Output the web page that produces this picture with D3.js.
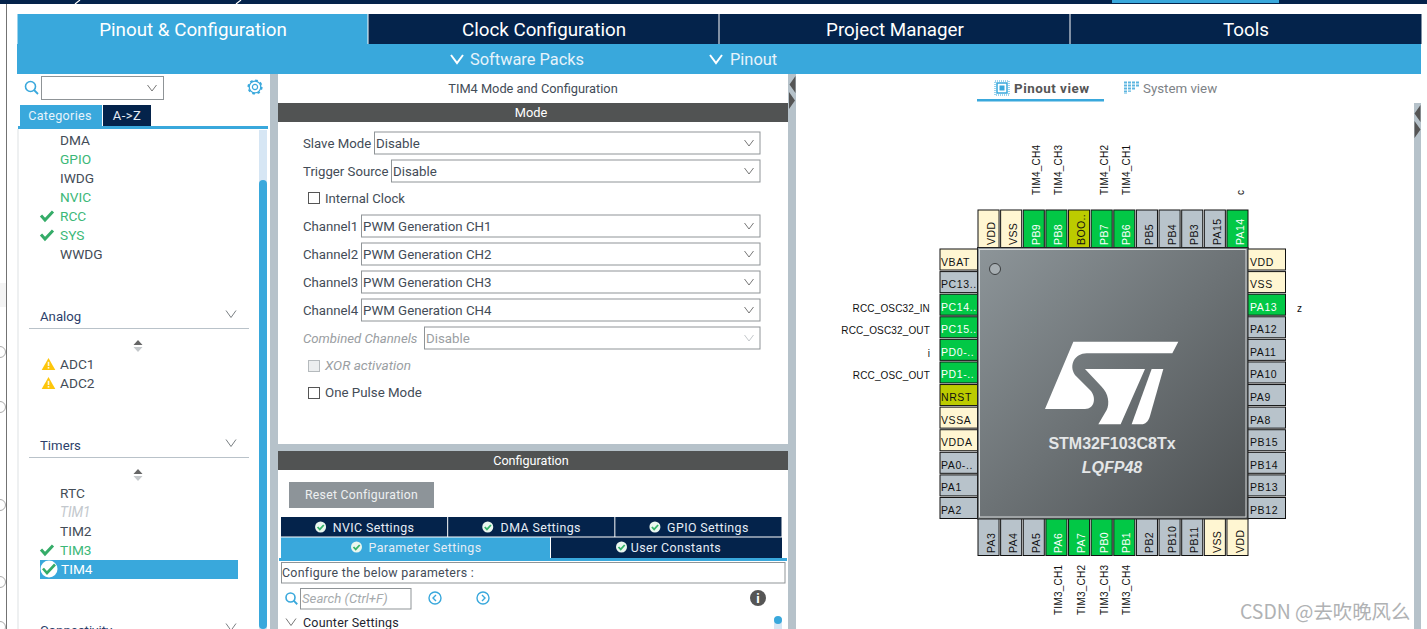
<!DOCTYPE html>
<html>
<head>
<meta charset="utf-8">
<script src="https://cdn.jsdelivr.net/npm/d3@7"></script>
<style>
  html, body { margin: 0; padding: 0; background: #fff; overflow: hidden; }
  svg { display: block; }
  text { font-family: Roboto, "Liberation Sans", sans-serif; }
</style>
</head>
<body>
<div id="chart"></div>
<script>
// header
var mainTabs = ["Pinout & Configuration", "Clock Configuration", "Project Manager", "Tools"];
var subMenus = ["Software Packs", "Pinout"];

// left list
var systemItems = ["DMA", "GPIO", "IWDG", "NVIC", "RCC", "SYS", "WWDG"];
var systemStates = ["plain", "green", "plain", "green", "ok", "ok", "plain"];
var analogItems = ["ADC1", "ADC2"];
var timerItems = ["RTC", "TIM1", "TIM2", "TIM3", "TIM4"];
var timerStates = ["plain", "off", "plain", "ok", "selected"];

// mode form
var modeLabels = ["Slave Mode", "Trigger Source", "Channel1", "Channel2", "Channel3", "Channel4", "Combined Channels"];
var modeValues = ["Disable", "Disable", "PWM Generation CH1", "PWM Generation CH2", "PWM Generation CH3", "PWM Generation CH4", "Disable"];
var configTabs1 = ["NVIC Settings", "DMA Settings", "GPIO Settings"];
var configTabs2 = ["Parameter Settings", "User Constants"];

// chip pins, p = power, g = free gpio, a = assigned, o = boot/reset
var topPins = ["VDD", "VSS", "PB9", "PB8", "BOO..", "PB7", "PB6", "PB5", "PB4", "PB3", "PA15", "PA14"];
var topKinds = ["p", "p", "a", "a", "o", "a", "a", "g", "g", "g", "g", "a"];
var topSignals = ["", "", "TIM4_CH4", "TIM4_CH3", "", "TIM4_CH2", "TIM4_CH1", "", "", "", "", "c"];
var leftPins = ["VBAT", "PC13..", "PC14..", "PC15..", "PD0-..", "PD1-..", "NRST", "VSSA", "VDDA", "PA0-..", "PA1", "PA2"];
var leftKinds = ["p", "g", "a", "a", "a", "a", "o", "p", "p", "g", "g", "g"];
var leftSignals = ["", "", "RCC_OSC32_IN", "RCC_OSC32_OUT", "i", "RCC_OSC_OUT", "", "", "", "", "", ""];
var rightPins = ["VDD", "VSS", "PA13", "PA12", "PA11", "PA10", "PA9", "PA8", "PB15", "PB14", "PB13", "PB12"];
var rightKinds = ["p", "p", "a", "g", "g", "g", "g", "g", "g", "g", "g", "g"];
var rightSignals = ["", "", "z", "", "", "", "", "", "", "", "", ""];
var bottomPins = ["PA3", "PA4", "PA5", "PA6", "PA7", "PB0", "PB1", "PB2", "PB10", "PB11", "VSS", "VDD"];
var bottomKinds = ["g", "g", "g", "a", "a", "a", "a", "g", "g", "g", "p", "p"];
var bottomSignals = ["", "", "", "TIM3_CH1", "TIM3_CH2", "TIM3_CH3", "TIM3_CH4", "", "", "", "", ""];

var navy = "#04234b", blue = "#39a8dc", slate = "#b6c2ca", bar = "#515353", ink = "#434c57", green = "#3cb878";
var kindFill = { p: "#fff6d2", g: "#b8c3cb", a: "#02c846", o: "#bccb00" };

var svg = d3.select("#chart").append("svg").attr("width", 1427).attr("height", 629);

function box(x0, y0, x1, y1, fill, stroke) {
  return svg.append("rect").attr("x", x0).attr("y", y0).attr("width", x1 - x0).attr("height", y1 - y0)
    .attr("fill", fill).attr("stroke", stroke || "none");
}
function label(x, y, str, size, color, anchor, extra) {
  var t = svg.append("text").attr("x", x).attr("y", y - 0.3).attr("font-size", size).attr("fill", color)
    .attr("text-anchor", anchor || "start").attr("dominant-baseline", "central").text(str);
  if (extra) extra(t);
  return t;
}
function chevron(x, y, w, h, color, width) {
  svg.append("path").attr("d", "M" + (x - w) + "," + (y - h) + "L" + x + "," + (y + h) + "L" + (x + w) + "," + (y - h))
    .attr("fill", "none").attr("stroke", color).attr("stroke-width", width || 1);
}
function tick(x, y, color, width) {
  svg.append("path").attr("d", "M" + (x - 6) + "," + (y - 0.5) + "l4,4.5l8,-8.5")
    .attr("fill", "none").attr("stroke", color).attr("stroke-width", width || 3);
}
function warn(x, y) {
  svg.append("path").attr("d", "M" + x + "," + (y - 6) + "l6.8,12h-13.6z").attr("fill", "#fdc60b");
  box(x - 0.8, y - 2.2, x + 0.8, y + 2, "#fff8dc");
  box(x - 0.8, y + 3, x + 0.8, y + 4.6, "#fff8dc");
}
function sortArrows(x, y) {
  svg.append("path").attr("d", "M" + (x - 4.5) + "," + (y - 1) + "l4.5,-5l4.5,5z").attr("fill", "#666");
  svg.append("path").attr("d", "M" + (x - 4.5) + "," + (y + 1) + "l4.5,5l4.5,-5z").attr("fill", "#c4c8cb");
}
function glass(x, y, r) {
  svg.append("circle").attr("cx", x).attr("cy", y).attr("r", r).attr("fill", "none").attr("stroke", blue).attr("stroke-width", 1.6);
  svg.append("path").attr("d", "M" + (x + r * 0.7) + "," + (y + r * 0.7) + "l" + r * 0.8 + "," + r * 0.8)
    .attr("stroke", blue).attr("stroke-width", 1.8);
}
function okDot(x, y) {
  svg.append("circle").attr("cx", x).attr("cy", y).attr("r", 5.5).attr("fill", "#eaf7ef");
  svg.append("path").attr("d", "M" + (x - 3) + "," + y + "l2.2,2.4l4,-4.4")
    .attr("fill", "none").attr("stroke", "#36b56a").attr("stroke-width", 1.8);
}
function spaced(v) { return function (t) { t.attr("letter-spacing", v); }; }
function italic(t) { t.attr("font-style", "italic"); }

// outer frame and stray edge of the window behind
box(0, 0, 1427, 629, "#fff");
box(0, 0, 1427, 4, navy);
box(1112, 0, 1279, 3, blue);
svg.append("path").attr("d", "M80,0l-5,4M241,0l-5,4").attr("stroke", "#fff").attr("stroke-width", 1.2);
box(6, 4, 7, 629, "#737373");
box(0, 283, 6, 307, "#f4f4f4");
[352, 407, 505, 582, 627].forEach(function (cy) {
  svg.append("circle").attr("cx", 0).attr("cy", cy).attr("r", 5.5).attr("fill", "none").attr("stroke", "#aaa");
});

// main tabs
var tabX = d3.scaleBand().domain(mainTabs).range([17.5, 1421.5]);
mainTabs.forEach(function (name, i) {
  box(tabX(name), 14, tabX(name) + tabX.bandwidth() - (i < 3 ? 1 : 0), 44, i === 0 ? blue : navy);
  label(tabX(name) + tabX.bandwidth() / 2, 30, name, 18.8, "#fff", "middle");
});
box(17, 44, 1421, 74, blue);
chevron(457, 59, 6, 4, "#fff", 2);
label(470, 60, subMenus[0], 16.4, "#e6f3fb");
chevron(716, 59, 6, 4, "#fff", 2);
label(730, 60, subMenus[1], 16.4, "#e6f3fb");

// panel backgrounds
box(270, 74, 278, 629, slate);
box(788, 74, 796, 629, slate);
box(278, 444, 788, 451, slate);
box(17, 129, 19, 629, "#eef0f1");
box(1414, 103, 1421, 629, slate);
svg.append("path").attr("d", "M795.5,76l-6,8.5l6,8.5zM789,92l6,8.5l-6,8.5z").attr("fill", "#555");
svg.append("path").attr("d", "M1420.5,105l-6,8.5l6,8.5zM1414.5,121l6,8.5l-6,8.5z").attr("fill", "#555");

// left panel
glass(30.5, 86.5, 5);
box(41.5, 76.5, 163.5, 99.5, "#fff", "#8f9497");
chevron(152, 88, 4.5, 3, "#777");
var gear = svg.append("g").attr("transform", "translate(255,87)").attr("fill", "none").attr("stroke", blue);
gear.append("circle").attr("r", 5.8).attr("stroke-width", 1.3);
gear.append("circle").attr("r", 6.8).attr("stroke-width", 1.6).attr("stroke-dasharray", "2.7 2.64");
gear.append("circle").attr("r", 2.6).attr("stroke-width", 1.2);

box(20, 105, 102, 126, blue);
label(60, 116, "Categories", 12.6, "#e6f3fb", "middle", spaced(0.3));
box(103, 105, 151, 126, navy);
label(127, 116, "A->Z", 13, "#e6edf5", "middle", spaced(0.5));
box(18, 126, 268, 129, blue);
box(259, 130, 267, 629, "#d6e6f4");
svg.append("rect").attr("x", 259).attr("y", 180).attr("width", 8).attr("height", 449).attr("rx", 4).attr("fill", blue);

var sysY = d3.scalePoint().domain(systemItems).range([140, 254]);
systemItems.forEach(function (name, i) {
  var st = systemStates[i];
  label(60, sysY(name), name, 13.7, st === "plain" ? ink : green);
  if (st === "ok") tick(47, sysY(name), "#35ac68");
});

label(40, 316.5, "Analog", 13.2, "#2d3f6b");
chevron(231, 314, 5, 3.5, "#7a7f83");
box(29, 328, 249, 329, "#b9c2c9");
sortArrows(138, 346);
var anaY = d3.scalePoint().domain(analogItems).range([364, 383]);
analogItems.forEach(function (name) {
  label(60, anaY(name), name, 13.7, ink);
  warn(48.5, anaY(name));
});

label(40, 445.5, "Timers", 13.2, "#2d3f6b");
chevron(231, 443, 5, 3.5, "#7a7f83");
box(29, 457, 249, 458, "#b9c2c9");
sortArrows(138, 475);
var timY = d3.scalePoint().domain(timerItems).range([493, 569]);
box(40, 560, 238, 579, blue);
timerItems.forEach(function (name, i) {
  var st = timerStates[i], c = st === "off" ? "#c3c8cd" : st === "ok" ? green : st === "selected" ? "#fff" : ink;
  label(st === "selected" ? 61 : 60, timY(name), name, 13.7, c, "start", function (t) {
    if (st === "off") italic(t);
  });
  if (st === "ok") tick(47, timY(name), "#35ac68");
  if (st === "selected") {
    svg.append("circle").attr("cx", 49).attr("cy", timY(name)).attr("r", 8.5).attr("fill", "#fff");
    tick(49, timY(name), "#35ac68", 2.6);
  }
});
label(40, 631, "Connectivity", 13.2, "#2d3f6b");
chevron(231, 627, 5, 3.5, "#7a7f83");

// mode panel
label(533, 88.5, "TIM4 Mode and Configuration", 12.8, ink, "middle");
box(278, 103, 788, 122, bar);
label(531, 113, "Mode", 12.8, "#fff", "middle");

var rowY = d3.scaleOrdinal().domain(modeLabels).range([143, 171, 226, 254, 282, 310, 338]);
var selectX = d3.scaleOrdinal().domain(modeLabels).range([374, 391, 361, 361, 361, 361, 424]);
modeLabels.forEach(function (name, i) {
  var y = rowY(name), x = selectX(name), dim = i === 6;
  label(303, y + 0.8, name, 13.2, dim ? "#9a9ea2" : ink, "start", function (t) { if (dim) italic(t); });
  box(x + 0.5, y - 11, 760, y + 11, "#fff", "#8f9497");
  label(x + 2, y + 0.8, modeValues[i], 13.3, dim ? "#9a9ea2" : ink);
  chevron(749, y, 4.5, 3, dim ? "#c4c8cb" : "#777");
});
box(308.5, 192.5, 319.5, 203.5, "#fff", "#555");
label(325, 198.8, "Internal Clock", 13.1, ink);
box(308.5, 360.5, 319.5, 371.5, "#eceeef", "#b5babd");
label(325, 365.5, "XOR activation", 13.6, "#9a9ea2", "start", italic);
box(308.5, 387.5, 319.5, 398.5, "#fff", "#555");
label(325, 392.8, "One Pulse Mode", 13.3, ink);

// configuration panel
box(278, 451, 788, 470, bar);
label(531, 461, "Configuration", 12.6, "#fff", "middle");
box(289, 482, 434, 508, "#8d9499");
label(361.5, 495.3, "Reset Configuration", 12.2, "#eef0f1", "middle", spaced(0.3));

var row1 = d3.scaleBand().domain(configTabs1).range([281, 782.5]);
configTabs1.forEach(function (name) {
  box(row1(name), 517, row1(name) + row1.bandwidth() - 1, 536.5, navy);
  var cx = row1(name) + row1.bandwidth() / 2;
  label(cx + 9, 527.5, name, 12.4, "#e6edf5", "middle", spaced(0.4));
  okDot(cx - 44, 527);
});
var row2x = d3.scaleOrdinal().domain(configTabs2).range([281, 551]);
var row2w = d3.scaleOrdinal().domain(configTabs2).range([269, 231]);
configTabs2.forEach(function (name, i) {
  box(row2x(name), 537.5, row2x(name) + row2w(name), 558, i === 0 ? blue : navy);
  var cx = row2x(name) + row2w(name) / 2;
  label(cx + 9.5, 548, name, 12.4, "#e6edf5", "middle", spaced(0.4));
  okDot(cx - (i === 0 ? 59 : 45), 547);
});
box(279, 558, 787, 561, blue);
box(281.5, 562.5, 785, 583, "#fff", "#8f9497");
label(282, 573, "Configure the below parameters :", 12.4, ink, "start", spaced(0.3));

glass(290.5, 597.5, 4.5);
box(300.5, 588.5, 411, 609, "#fff", "#8f9497");
label(302, 599, "Search (Ctrl+F)", 13.2, "#a6aaad", "start", italic);
[435, 483].forEach(function (cx, i) {
  svg.append("circle").attr("cx", cx).attr("cy", 598).attr("r", 6).attr("fill", "none").attr("stroke", blue).attr("stroke-width", 1.4);
  var s = i === 0 ? 1 : -1;
  svg.append("path").attr("d", "M" + (cx + s) + ",595l" + (-3 * s) + ",3l" + (3 * s) + ",3")
    .attr("fill", "none").attr("stroke", blue).attr("stroke-width", 1.4);
});
svg.append("circle").attr("cx", 758).attr("cy", 598).attr("r", 8).attr("fill", "#555");
label(758, 598.5, "i", 13, "#fff", "middle", function (t) { t.attr("font-weight", 700); });
chevron(291, 622, 5, 3.5, "#777");
label(303, 622.5, "Counter Settings", 12.5, "#1c2430", "start", spaced(0.2));
box(774, 618, 782, 629, "#d6e6f4");
svg.append("circle").attr("cx", 778).attr("cy", 620).attr("r", 4).attr("fill", blue);

// pinout view header
var chipIcon = svg.append("g").attr("transform", "translate(1002,88)");
chipIcon.append("rect").attr("x", -5).attr("y", -5).attr("width", 10).attr("height", 10).attr("fill", "none").attr("stroke", blue).attr("stroke-width", 1.5);
chipIcon.append("rect").attr("x", -7).attr("y", -7).attr("width", 14).attr("height", 14).attr("fill", "none").attr("stroke", blue).attr("stroke-width", 1).attr("stroke-dasharray", "1 1");
chipIcon.append("rect").attr("x", -2.5).attr("y", -2.5).attr("width", 5).attr("height", 5).attr("fill", blue);
label(1014, 88.8, "Pinout view", 13.4, "#555", "start", function (t) { t.attr("font-weight", 700).attr("letter-spacing", 0.5); });
box(977, 99, 1104, 101.5, blue);
[0, 4, 8, 12].forEach(function (dx) {
  svg.append("path").attr("d", "M" + (1125.5 + dx) + ",81.5V" + (94 - dx * 0.55)).attr("stroke", "#5db5e0").attr("stroke-width", 3).attr("stroke-dasharray", "2 1");
});
label(1143, 88.8, "System view", 13.3, "#7d8286");

// chip body
var defs = svg.append("defs");
var grad = defs.append("linearGradient").attr("id", "chipFill").attr("x1", 0).attr("y1", 0).attr("x2", 1).attr("y2", 1);
grad.append("stop").attr("offset", 0).attr("stop-color", "#8d9599");
grad.append("stop").attr("offset", 1).attr("stop-color", "#4c5052");

var pinLen = 38;
var chipX0 = 977.5, chipX1 = 1248, chipY0 = 247.5, chipY1 = 519;
var xTop = d3.scaleBand().domain(d3.range(12)).range([chipX0, chipX1 - 0.5]).paddingInner(0.07);
var xBot = d3.scaleBand().domain(d3.range(12)).range([chipX0, chipX1 - 0.5]).paddingInner(0.07);
var yLeft = d3.scaleBand().domain(d3.range(12)).range([chipY0 + 1, chipY1 - 1]).paddingInner(0.07);
var yRight = d3.scaleBand().domain(d3.range(12)).range([chipY0 + 1, chipY1 - 1]).paddingInner(0.07);

function pinText(k) { return k === "a" ? "#fff" : "#111"; }
var pinFont = "'Liberation Sans', Arial, sans-serif";

function vertPins(names, kinds, signals, x, y0, y1, textY, signalY) {
  names.forEach(function (name, i) {
    var cx = x(i) + x.bandwidth() - 4;
    svg.append("rect").attr("x", x(i) + 0.5).attr("y", y0 + 0.5).attr("width", x.bandwidth()).attr("height", y1 - y0 - 1)
      .attr("fill", kindFill[kinds[i]]).attr("stroke", "#111");
    svg.append("text").attr("transform", "translate(" + cx + "," + textY + ") rotate(-90)")
      .attr("font-size", 10.5).attr("letter-spacing", 0.4).attr("fill", pinText(kinds[i]))
      .style("font-family", pinFont).text(name);
    if (signals[i]) {
      svg.append("text").attr("transform", "translate(" + cx + "," + signalY + ") rotate(-90)")
        .attr("font-size", 10).attr("letter-spacing", 0.25).attr("fill", "#111")
        .style("font-family", pinFont).text(signals[i]);
    }
  });
}
function horizPins(names, kinds, signals, y, x0, x1, textX, signalX, signalAnchor) {
  names.forEach(function (name, i) {
    var by = y(i) + y.bandwidth() - 4;
    svg.append("rect").attr("x", x0 + 0.5).attr("y", y(i) + 0.5).attr("width", x1 - x0 - 1).attr("height", y.bandwidth())
      .attr("fill", kindFill[kinds[i]]).attr("stroke", "#111");
    svg.append("text").attr("x", textX).attr("y", by).attr("font-size", 10.5).attr("letter-spacing", 0.6)
      .attr("fill", pinText(kinds[i])).style("font-family", pinFont).text(name);
    if (signals[i]) {
      svg.append("text").attr("x", signalX).attr("y", by + 1).attr("font-size", 10).attr("letter-spacing", 0.15)
        .attr("fill", "#111").attr("text-anchor", signalAnchor).style("font-family", pinFont).text(signals[i]);
    }
  });
}
vertPins(topPins, topKinds, topSignals, xTop, chipY0 - pinLen, chipY0 + 2, 245, 195);
vertPins(bottomPins, bottomKinds, bottomSignals, xBot, chipY1 - 1, chipY1 + pinLen - 1, 553, 615);
horizPins(leftPins, leftKinds, leftSignals, yLeft, chipX0 - pinLen, chipX0 + 2, 941, 930, "end");
horizPins(rightPins, rightKinds, rightSignals, yRight, chipX1 - 2, chipX1 + pinLen, 1250, 1297, "start");

box(chipX0, chipY0, chipX1, chipY1, "url(#chipFill)", "#222");
svg.append("rect").attr("x", chipX0 + 2).attr("y", chipY0 + 2).attr("width", chipX1 - chipX0 - 4).attr("height", chipY1 - chipY0 - 4)
  .attr("fill", "none").attr("stroke", "#d8dbdc");
svg.append("circle").attr("cx", 995).attr("cy", 269).attr("r", 5.5).attr("fill", "#a7aeb2").attr("stroke", "#3a3d3f");

// ST logo outline, drawn on a 3x grid
var logo = svg.append("g").attr("transform", "translate(1030,330) scale(0.3333)").attr("fill", "#fff");
logo.append("path").attr("d", "M130,35L445,35L427,70L170,70C135,70 115,105 135,135L180,180C200,200 195,237 165,237L45,237Z");
logo.append("path").attr("d", "M165,117L345,117L272,283L205,283L230,240C240,220 235,190 215,170Z");
logo.append("path").attr("d", "M365,117L400,117L360,258C355,275 345,283 335,283L305,283Z");
svg.append("text").attr("x", 1112).attr("y", 443).attr("text-anchor", "middle").attr("dominant-baseline", "central")
  .attr("font-size", 16).attr("font-weight", 700).attr("fill", "#e4e6e7").style("font-family", pinFont).text("STM32F103C8Tx");
svg.append("text").attr("x", 1112).attr("y", 467).attr("text-anchor", "middle").attr("dominant-baseline", "central")
  .attr("font-size", 16).attr("font-weight", 700).attr("font-style", "italic").attr("fill", "#e4e6e7").style("font-family", pinFont).text("LQFP48");

// watermark
svg.append("text").attr("x", 1240).attr("y", 610).attr("dominant-baseline", "central").attr("font-size", 19.4)
  .attr("fill", "#b0b2b4").style("font-family", "'Noto Sans CJK SC', sans-serif").text("CSDN @去吹晚风么");
</script>
</body>
</html>
